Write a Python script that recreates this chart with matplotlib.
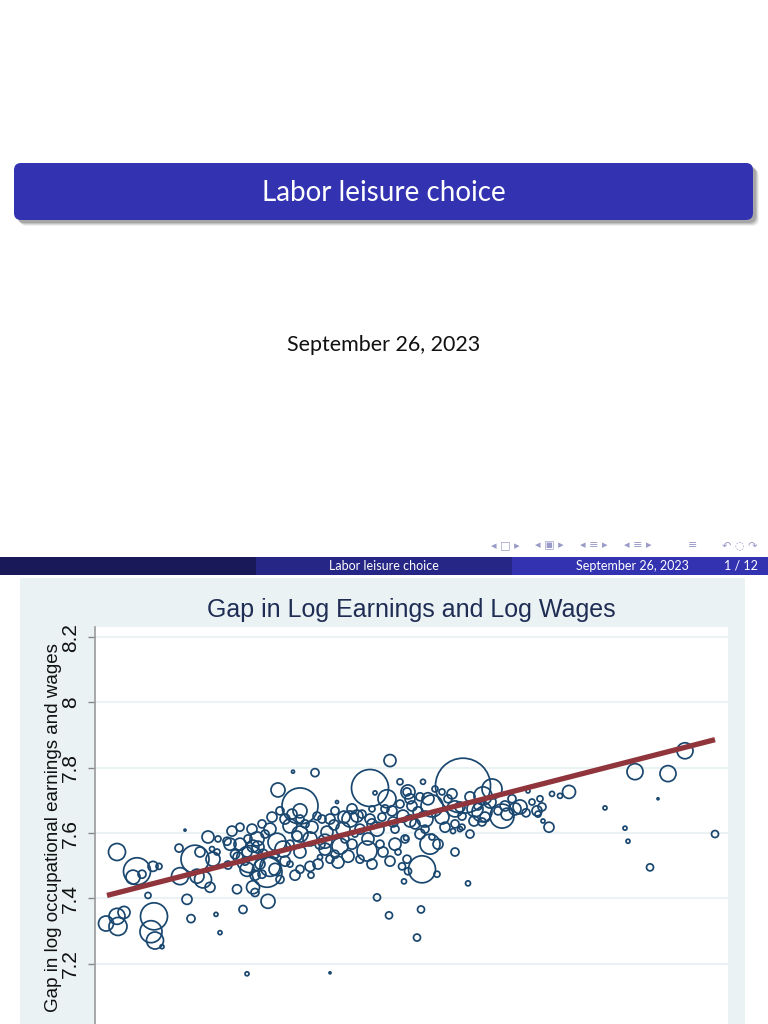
import numpy as np
import matplotlib
matplotlib.use("Agg")
import matplotlib.pyplot as plt
from matplotlib.patches import FancyBboxPatch, Rectangle

# ---- data (x = occupation rank, unlabelled in source) ----
occ_rank = [22, 11, 22, 23, 29, 42, 38, 47, 58, 64, 53, 59, 56, 60, 67, 84, 90, 85, 100, 105,
            92, 96, 102, 108, 113, 118, 115, 121, 125, 132, 123, 122, 117,
            152, 148, 142, 152, 155, 158, 160, 173, 172, 140, 153, 152, 145, 163,
            183, 198, 220, 205, 205, 235, 275, 280, 242, 295, 305, 292, 312,
            282, 294, 216, 309, 326, 322, 373,
            175, 215, 225, 245, 243, 272, 288, 295, 307, 255, 262, 235, 222, 195, 175, 162,
            182, 202, 215, 232, 248, 265, 282, 298, 308, 188, 205, 168, 158, 310, 312,
            190, 210, 225, 170, 195, 240, 250, 275, 285, 300, 265, 180, 205, 230, 260,
            150, 167, 195, 235, 290, 277,
            368, 328, 397, 388, 313, 340, 347, 337, 317, 323, 353, 360, 347, 330, 367, 380,
            387, 390, 407, 410, 420, 425, 437, 442, 447, 443, 448, 454, 433, 465, 474, 360,
            365, 358, 387, 412, 337, 335, 343, 360, 327, 342, 313, 367, 303, 311,
            320, 330, 350, 375, 383, 300,
            510, 540, 573, 590, 563, 530, 533, 555, 620, 457,
            137, 145, 157, 167, 177, 185, 197, 205, 217, 227, 239, 249, 257, 267, 277, 287,
            297, 305, 315, 325, 333, 357, 375, 395, 403, 417, 431, 445,
            165, 180, 190, 205, 223, 240, 253, 277, 135, 143, 133, 160, 185, 200, 230, 257,
            273, 325, 315, 365, 379]

log_gap = [7.542, 7.323, 7.345, 7.314, 7.357, 7.483, 7.465, 7.474, 7.498, 7.498, 7.409, 7.345,
           7.298, 7.271, 7.252, 7.554, 7.609, 7.468, 7.520, 7.542,
           7.397, 7.338, 7.468, 7.458, 7.588, 7.520, 7.434, 7.351, 7.295, 7.575, 7.582, 7.542, 7.551,
           7.169, 7.366, 7.428, 7.489, 7.520, 7.434, 7.418, 7.391, 7.480, 7.535, 7.582, 7.542,
           7.566, 7.557,
           7.732, 7.788, 7.785, 7.683, 7.668, 7.172, 7.738, 7.723, 7.695, 7.822, 7.757, 7.705, 7.726,
           7.403, 7.348, 7.471, 7.452, 7.366, 7.280, 7.446,
           7.498, 7.498, 7.526, 7.560, 7.511, 7.545, 7.542, 7.514, 7.498, 7.643, 7.652, 7.643,
           7.652, 7.622, 7.612, 7.582,
           7.572, 7.591, 7.582, 7.603, 7.612, 7.612, 7.612, 7.634, 7.652, 7.551, 7.542, 7.535,
           7.560, 7.582, 7.520,
           7.643, 7.628, 7.566, 7.597, 7.566, 7.668, 7.582, 7.643, 7.566, 7.566, 7.520, 7.535,
           7.597, 7.551, 7.597,
           7.514, 7.474, 7.505, 7.520, 7.674, 7.674,
           7.745, 7.757, 7.735, 7.714, 7.726, 7.735, 7.726, 7.683, 7.683, 7.665, 7.705, 7.674,
           7.649, 7.643, 7.652, 7.674,
           7.665, 7.649, 7.652, 7.683, 7.674, 7.680, 7.695, 7.668, 7.680, 7.658, 7.637, 7.618,
           7.729, 7.714, 7.726, 7.628,
           7.612, 7.606, 7.634, 7.658, 7.588, 7.566, 7.566, 7.542, 7.489, 7.474, 7.483, 7.618,
           7.542, 7.585,
           7.628, 7.612, 7.618, 7.597, 7.683, 7.612,
           7.677, 7.788, 7.782, 7.852, 7.705, 7.615, 7.575, 7.495, 7.597, 7.720,
           7.606, 7.618, 7.612, 7.628, 7.649, 7.668, 7.658, 7.643, 7.618, 7.643, 7.625, 7.649,
           7.674, 7.658, 7.628, 7.649,
           7.668, 7.689, 7.705, 7.711, 7.705, 7.720, 7.711, 7.695, 7.668, 7.705, 7.662, 7.705,
           7.505, 7.489, 7.514, 7.489, 7.505, 7.535, 7.529, 7.505, 7.566, 7.526, 7.502, 7.471,
           7.458, 7.471, 7.575, 7.566,
           7.582, 7.597, 7.637, 7.680, 7.637]

weight = [17, 15, 16, 18, 12, 27, 14, 8, 10, 6, 6, 27, 22, 17, 4, 8, 2, 17, 28, 10,
          10, 8, 14, 17, 12, 14, 10, 4, 4, 8, 6, 6, 5,
          4, 8, 9, 14, 27, 13, 8, 14, 30, 9, 8, 10, 12, 12,
          14, 3, 8, 36, 14, 2, 37, 4, 3, 12, 6, 18, 8,
          7, 7, 6, 5, 7, 7, 5,
          20, 10, 5, 16, 12, 20, 10, 10, 7, 16, 12, 10, 8, 14, 12, 14,
          18, 10, 14, 12, 14, 10, 14, 10, 12, 16, 12, 10, 12, 8, 8,
          10, 8, 10, 8, 8, 8, 8, 10, 8, 12, 8, 8, 16, 12, 6,
          8, 8, 6, 8, 8, 6,
          55, 5, 20, 18, 14, 6, 6, 22, 10, 10, 8, 16, 14, 16, 8, 16,
          20, 10, 24, 10, 12, 14, 6, 10, 8, 6, 4, 10, 4, 5, 13, 8,
          5, 5, 8, 12, 6, 20, 10, 8, 27, 6, 7, 6, 6, 5,
          10, 8, 10, 8, 8, 8,
          4, 16, 16, 16, 2, 4, 4, 7, 7, 5,
          10, 8, 10, 8, 10, 8, 10, 8, 12, 8, 10, 12, 10, 8, 10, 8,
          10, 8, 10, 8, 12, 10, 10, 12, 8, 8, 8, 6,
          10, 12, 10, 8, 10, 8, 12, 10, 12, 10, 8, 10, 8, 10, 14, 10,
          12, 10, 12, 10, 10]

fit_x = [12, 620]
fit_y = [7.409, 7.886]

y_ticks = [7.2, 7.4, 7.6, 7.8, 8.0, 8.2]
y_tick_labels = ["7.2", "7.4", "7.6", "7.8", "8", "8.2"]

slide_title = "Labor leisure choice"
slide_date = "September 26, 2023"
page_label = "1 / 12"
chart_title = "Gap in Log Earnings and Log Wages"
y_label = "Gap in log occupational earnings and wages"

W, H = 768, 1024
fig = plt.figure(figsize=(W / 100, H / 100), dpi=100)
fig.patch.set_facecolor("white")

# page-level canvas in pixel coordinates
bg = fig.add_axes([0, 0, 1, 1])
bg.set_xlim(0, W)
bg.set_ylim(H, 0)
bg.axis("off")

# beamer title box with a soft shadow
for off, a in [(6, 0.08), (5, 0.12), (4, 0.16), (3, 0.2)]:
    bg.add_patch(FancyBboxPatch((14 + off, 163 + off), 739, 57,
                                boxstyle="round,pad=0,rounding_size=7",
                                fc="#404040", ec="none", alpha=a))
bg.add_patch(FancyBboxPatch((14, 163), 739, 57, boxstyle="round,pad=0,rounding_size=7",
                            fc="#3333b2", ec="none"))
bg.text(384, 193, slide_title, color="white", fontsize=20, family="Lato",
        ha="center", va="center")
bg.text(384, 345, slide_date, color="#111111", fontsize=15.5, family="Lato",
        ha="center", va="center")

# navigation symbols
nav = [(505, "◂ □ ▸"), (549, "◂ ▣ ▸"), (594, "◂ ≡ ▸"), (638, "◂ ≡ ▸"), (693, "≡"),
       (740, "↶ ◌ ↷")]
for xx, s in nav:
    bg.text(xx, 545, s, color="#9a9ac8", fontsize=8, family=["DejaVu Sans", "Noto Sans"],
            ha="center", va="center")

# footer bar
bg.add_patch(Rectangle((0, 557), 256, 18, fc="#191959", ec="none"))
bg.add_patch(Rectangle((256, 557), 256, 18, fc="#262686", ec="none"))
bg.add_patch(Rectangle((512, 557), 256, 18, fc="#3333b2", ec="none"))
bg.text(384, 566, slide_title, color="white", fontsize=9, family="Lato", ha="center", va="center")
bg.text(632, 566, slide_date, color="white", fontsize=9, family="Lato", ha="center", va="center")
bg.text(741, 566, page_label, color="white", fontsize=9, family="Lato", ha="center", va="center")

# Stata graph region
bg.add_patch(Rectangle((20, 578), 725, 446, fc="#eaf2f3", ec="none"))

# ---- the chart ----
y_lo, y_hi = 7.0, 8.231
top_px, bot_px = 627, 1029
ax = fig.add_axes([95 / W, 1 - bot_px / H, (728 - 95) / W, (bot_px - top_px) / H])
ax.set_facecolor("white")

sizes = (np.array(weight) * 0.72) ** 2
ax.scatter(occ_rank, log_gap, s=sizes, facecolors="none", edgecolors="#1a476f",
           linewidths=1.25, zorder=3)
ax.plot(fit_x, fit_y, color="#90353b", lw=3.8, solid_capstyle="butt", zorder=4)

ax.set_xlim(0, 633)
ax.set_ylim(y_lo, y_hi)
ax.set_xticks([])
ax.set_yticks(y_ticks)
ax.set_yticklabels(y_tick_labels, rotation=90, family="Liberation Sans", fontsize=15,
                   color="#111111")
for lab in ax.get_yticklabels():
    lab.set_va("center")
    lab.set_ha("right")
ax.tick_params(axis="y", length=5, width=1, color="#888888", pad=6)
ax.grid(axis="y", color="#eaf2f3", lw=1.5, zorder=0)
for side in ["top", "right", "bottom"]:
    ax.spines[side].set_visible(False)
ax.spines["left"].set_color("#9a9a9a")
ax.spines["left"].set_linewidth(1.2)

ax.set_title(chart_title, family="Liberation Sans", fontsize=18, color="#1f2d55", pad=7)
ax.set_ylabel(y_label, family="Liberation Sans", fontsize=13.5, color="#111111")
ax.yaxis.set_label_coords(-0.052, 0.5)

fig.savefig("out.png", dpi=100)
